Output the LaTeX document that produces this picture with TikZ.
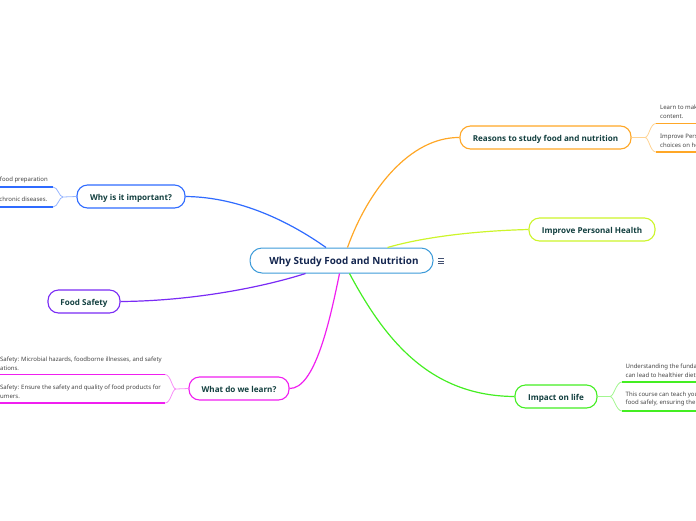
\documentclass[tikz,border=0pt]{standalone}
\usepackage{fontspec}
\setmainfont{Noto Sans}
\newfontfamily\headfont{Open Sans}
\definecolor{cBlue}{HTML}{2F6BFF}
\definecolor{cPurple}{HTML}{7A2BF5}
\definecolor{cMag}{HTML}{F01FF0}
\definecolor{cOrange}{HTML}{FFA726}
\definecolor{cYellow}{HTML}{CDF52A}
\definecolor{cGreen}{HTML}{44EE22}
\definecolor{cRoot}{HTML}{3D9BD9}
\definecolor{cInk}{HTML}{123F3F}
\definecolor{cNavy}{HTML}{14264F}
\definecolor{cLeaf}{HTML}{444444}
\tikzset{
  topic/.style={draw=#1,fill=white,rounded corners=10.5pt,line width=1.1pt,minimum height=23pt,
    inner sep=0pt,text=cInk,text height=7pt,text depth=0pt,font=\headfont\fontsize{8.1}{10}\selectfont\bfseries},
  rootbox/.style={draw=cRoot,fill=white,rounded corners=12pt,line width=1pt,minimum height=25pt,minimum width=183pt,
    inner sep=0pt,text=cNavy,text height=7.6pt,text depth=0pt,font=\headfont\fontsize{9.9}{12}\selectfont\bfseries},
  leaf/.style={inner sep=0pt,text=cLeaf,align=left,font=\fontsize{6}{8.8}\selectfont},
  branch/.style={draw=#1,line width=1.2pt},
  fork/.style={draw=#1!50!white,line width=.8pt},
  rule/.style={draw=#1,line width=1.5pt},
  menu/.style={draw=cNavy!80!white,line width=.7pt}
}
\begin{document}
\begin{tikzpicture}[x=1pt,y=-1pt]
\useasboundingbox (0,0) rectangle (696,520);
% nodes
\node[rootbox] (root) at (341.5,260.5) {\hspace{5pt}Why Study Food and Nutrition};
\node[topic=cBlue,minimum width=108pt] (why) at (131,196.5) {Why is it important?};
\node[topic=cPurple,minimum width=72pt] (safety) at (84,301.5) {Food Safety};
\node[topic=cMag,minimum width=100pt] (learn) at (239,388.5) {What do we learn?};
\node[topic=cOrange,minimum width=171pt] (reasons) at (545.5,137.5) {Reasons to study food and nutrition};
\node[topic=cYellow,minimum width=126pt] (health) at (592,229.5) {Improve Personal Health};
\node[topic=cGreen,minimum width=82pt] (impact) at (556,396.5) {Impact on life};
% branches
\draw[branch=cBlue] (why.east) .. controls (240,197) and (290,222) .. ([xshift=-15.5pt]root.north);
\draw[branch=cPurple] (safety.east) .. controls (190,301) and (260,288) .. ([xshift=-36pt]root.south);
\draw[branch=cMag] (learn.east) .. controls (315,389) and (330,320) .. ([xshift=-2pt]root.south);
\draw[branch=cOrange] (reasons.west) .. controls (410,137) and (368,190) .. ([xshift=6pt]root.north);
\draw[branch=cYellow] (health.west) .. controls (470,231) and (420,238) .. ([xshift=46pt]root.north);
\draw[branch=cGreen] (impact.west) .. controls (430,396) and (385,340) .. ([xshift=8pt]root.south);
% leaf ends
\coordinate (bT) at (53,187); \coordinate (bB) at (53,207); \coordinate (bF) at (63,197);
\coordinate (bTe) at (0,187); \coordinate (bBe) at (0,207);
\coordinate (mT) at (165,374.5); \coordinate (mB) at (165,403); \coordinate (mF) at (176,389);
\coordinate (mTe) at (0,374.5); \coordinate (mBe) at (0,403);
\coordinate (oT) at (656,123.5); \coordinate (oB) at (656,152); \coordinate (oF) at (645,137.5);
\coordinate (oTe) at (696,123.5); \coordinate (oBe) at (696,152);
\coordinate (gT) at (622,382); \coordinate (gB) at (622,411); \coordinate (gF) at (610,396.5);
\coordinate (gTe) at (696,382); \coordinate (gBe) at (696,411);
% forks
\draw[fork=cBlue] (why.west) -- (bF) .. controls (59,197) and (58,187) .. (bT);
\draw[fork=cBlue] (bF) .. controls (59,197) and (58,207) .. (bB);
\draw[rule=cBlue] (bT) -- (bTe);
\draw[rule=cBlue] (bB) -- (bBe);
\draw[fork=cMag] (learn.west) -- (mF) .. controls (172,389) and (171,374.5) .. (mT);
\draw[fork=cMag] (mF) .. controls (172,389) and (171,403) .. (mB);
\draw[rule=cMag] (mT) -- (mTe);
\draw[rule=cMag] (mB) -- (mBe);
\draw[fork=cOrange] (reasons.east) -- (oF) .. controls (649,137.5) and (650,123.5) .. (oT);
\draw[fork=cOrange] (oF) .. controls (649,137.5) and (650,152) .. (oB);
\draw[rule=cOrange] (oT) -- (oTe);
\draw[rule=cOrange] (oB) -- (oBe);
\draw[fork=cGreen] (impact.east) -- (gF) .. controls (614,396.5) and (616,382) .. (gT);
\draw[fork=cGreen] (gF) .. controls (614,396.5) and (616,411) .. (gB);
\draw[rule=cGreen] (gT) -- (gTe);
\draw[rule=cGreen] (gB) -- (gBe);
% leaf text
\node[leaf,anchor=east] (t1) at (48,180) {food preparation};
\node[leaf,anchor=east] (t2) at (47.5,199.5) {chronic diseases.};
\node[leaf,anchor=west] (t3) at (0,363.5) {Safety: Microbial hazards, foodborne illnesses, and safety\\ations.};
\node[leaf,anchor=west] (t4) at (0,391.5) {Safety: Ensure the safety and quality of food products for\\umers.};
\node[leaf,anchor=west] (t5) at (660,111.5) {Learn to make\\content.};
\node[leaf,anchor=west] (t6) at (660,140.5) {Improve Perso\\choices on hea};
\node[leaf,anchor=west] (t7) at (625.5,370.5) {Understanding the funda\\can lead to healthier diets};
\node[leaf,anchor=west] (t8) at (625.5,399) {This course can teach you\\food safely, ensuring the};
% menu icon
\coordinate (i1) at (438,258.5); \coordinate (i2) at (444,258.5);
\coordinate (i3) at (438,261); \coordinate (i4) at (444,261);
\coordinate (i5) at (438,263.7); \coordinate (i6) at (444,263.7);
\draw[menu] (i1) -- (i2);
\draw[menu] (i3) -- (i4);
\draw[menu] (i5) -- (i6);
\end{tikzpicture}
\end{document}
